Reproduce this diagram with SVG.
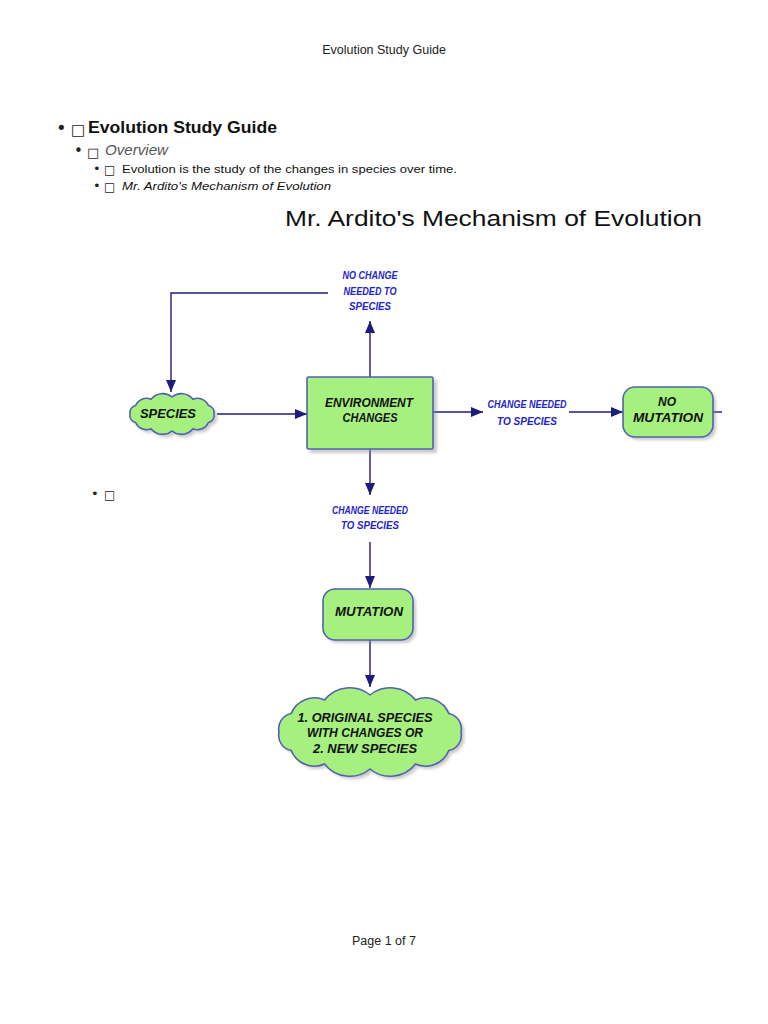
<svg xmlns="http://www.w3.org/2000/svg" width="768" height="1024" viewBox="0 0 768 1024">
<style>
.hdr{font-family:"Liberation Sans",Arial,sans-serif;font-size:12.5px;fill:#222;text-anchor:middle}
.sym{font-family:"DejaVu Sans",sans-serif;fill:#222}
.out{font-family:"Liberation Sans",Arial,sans-serif;fill:#111}
.node{fill:#a6f07f;stroke:#5262b0;stroke-width:1.6}
.shadow{fill:#888;opacity:0.45}
.nt{font-family:"Liberation Sans",Arial,sans-serif;font-weight:bold;font-style:italic;font-size:12px;fill:#111;text-anchor:middle}
.lt{font-family:"Liberation Sans",Arial,sans-serif;font-weight:bold;font-style:italic;font-size:11px;fill:#2424c8;text-anchor:middle}
.conn{fill:none;stroke:#1c1c7a;stroke-width:1.4}
</style>
<defs>
<marker id="ah" viewBox="0 0 12 10" refX="12" refY="5" markerWidth="12" markerHeight="10" markerUnits="userSpaceOnUse" orient="auto">
<path d="M0,0 L12,5 L0,10 Z" fill="#1c1c7a"/>
</marker>
<filter id="blur" x="-20%" y="-20%" width="140%" height="140%"><feGaussianBlur stdDeviation="1.5"/></filter>
<path id="cloudS" d="M214,414 A7.1,7.1 0 0 1 208.4,422.5 A11.6,11.6 0 0 1 193,428.7 A14.8,14.8 0 0 1 172,431 A14.8,14.8 0 0 1 151,428.7 A11.6,11.6 0 0 1 135.6,422.5 A7.1,7.1 0 0 1 130,414 A7.1,7.1 0 0 1 135.6,405.5 A11.6,11.6 0 0 1 151,399.3 A14.8,14.8 0 0 1 172,397 A14.8,14.8 0 0 1 193,399.3 A11.6,11.6 0 0 1 208.4,405.5 A7.1,7.1 0 0 1 214,414 Z"/>
<path id="cloudB" d="M461,732 A15.5,15.5 0 0 1 448.8,750.5 A25.1,25.1 0 0 1 415.5,764 A32,32 0 0 1 370,769 A32,32 0 0 1 324.5,764 A25.1,25.1 0 0 1 291.2,750.5 A15.5,15.5 0 0 1 279,732 A15.5,15.5 0 0 1 291.2,713.5 A25.1,25.1 0 0 1 324.5,700 A32,32 0 0 1 370,695 A32,32 0 0 1 415.5,700 A25.1,25.1 0 0 1 448.8,713.5 A15.5,15.5 0 0 1 461,732 Z"/>
</defs>
<rect width="768" height="1024" fill="#ffffff"/>

<text class="hdr" x="384" y="54">Evolution Study Guide</text>
<text class="hdr" x="384" y="945">Page 1 of 7</text>

<g id="outline">
<text class="sym" x="56" y="134" font-size="18">•</text>
<text class="sym" x="71" y="135" font-size="15">□</text>
<text class="out" x="88" y="133" font-size="17" font-weight="bold" textLength="189" lengthAdjust="spacingAndGlyphs">Evolution Study Guide</text>
<text class="sym" x="74" y="156" font-size="15">•</text>
<text class="sym" x="87" y="157" font-size="13">□</text>
<text class="out" x="105" y="155" font-size="14" font-style="italic" style="fill:#555" textLength="63" lengthAdjust="spacingAndGlyphs">Overview</text>
<text class="sym" x="93" y="173" font-size="13">•</text>
<text class="sym" x="104" y="174" font-size="12">□</text>
<text class="out" x="122" y="173" font-size="11" textLength="335" lengthAdjust="spacingAndGlyphs">Evolution is the study of the changes in species over time.</text>
<text class="sym" x="93" y="190" font-size="13">•</text>
<text class="sym" x="104" y="191" font-size="12">□</text>
<text class="out" x="122" y="190" font-size="11" font-style="italic" textLength="209" lengthAdjust="spacingAndGlyphs">Mr. Ardito's Mechanism of Evolution</text>
<text class="sym" x="91" y="498" font-size="13">•</text>
<text class="sym" x="104" y="499" font-size="12">□</text>
</g>

<text id="title" class="out" x="285" y="226" font-size="22" textLength="417" lengthAdjust="spacingAndGlyphs">Mr. Ardito's Mechanism of Evolution</text>

<g id="connectors">
<path class="conn" d="M370,377 L370,321" marker-end="url(#ah)"/>
<path class="conn" d="M328,293 L171,293 L171,392" marker-end="url(#ah)"/>
<path class="conn" d="M217,414 L307,414" marker-end="url(#ah)"/>
<path class="conn" d="M433,412 L483,412" marker-end="url(#ah)"/>
<path class="conn" d="M569,412 L623,412" marker-end="url(#ah)"/>
<path class="conn" d="M713,412 L722,412"/>
<path class="conn" d="M370,449 L370,495" marker-end="url(#ah)"/>
<path class="conn" d="M370,542 L370,588" marker-end="url(#ah)"/>
<path class="conn" d="M370,640 L370,687" marker-end="url(#ah)"/>
</g>

<g id="lbl-nochange">
<text class="lt" x="370" y="279" textLength="55" lengthAdjust="spacingAndGlyphs">NO CHANGE</text>
<text class="lt" x="370" y="295" textLength="53" lengthAdjust="spacingAndGlyphs">NEEDED TO</text>
<text class="lt" x="370" y="310" textLength="42" lengthAdjust="spacingAndGlyphs">SPECIES</text>
</g>
<g id="lbl-change-right">
<text class="lt" x="527" y="408" textLength="79" lengthAdjust="spacingAndGlyphs">CHANGE NEEDED</text>
<text class="lt" x="527" y="425" textLength="60" lengthAdjust="spacingAndGlyphs">TO SPECIES</text>
</g>
<g id="lbl-change-down">
<text class="lt" x="370" y="514" textLength="76" lengthAdjust="spacingAndGlyphs">CHANGE NEEDED</text>
<text class="lt" x="370" y="529" textLength="58" lengthAdjust="spacingAndGlyphs">TO SPECIES</text>
</g>

<g id="species">
<use href="#cloudS" class="shadow" transform="translate(3,3)" filter="url(#blur)"/>
<use href="#cloudS" class="node"/>
<text class="nt" x="168" y="418" textLength="56" lengthAdjust="spacingAndGlyphs">SPECIES</text>
</g>

<g id="environment">
<rect class="shadow" x="310" y="380" width="127" height="73" filter="url(#blur)"/>
<rect class="node" x="307" y="377" width="126" height="72" rx="1.5"/>
<text class="nt" x="369" y="407" textLength="88" lengthAdjust="spacingAndGlyphs">ENVIRONMENT</text>
<text class="nt" x="370" y="422" textLength="55" lengthAdjust="spacingAndGlyphs">CHANGES</text>
</g>

<g id="nomutation">
<rect class="shadow" x="626" y="390" width="90" height="50" rx="12" filter="url(#blur)"/>
<rect class="node" x="623" y="387" width="90" height="50" rx="12"/>
<text class="nt" x="667" y="406">NO</text>
<text class="nt" x="668" y="422" textLength="70" lengthAdjust="spacingAndGlyphs">MUTATION</text>
</g>

<g id="mutation">
<rect class="shadow" x="326" y="592" width="90" height="51" rx="12" filter="url(#blur)"/>
<rect class="node" x="323" y="589" width="90" height="51" rx="12"/>
<text class="nt" x="369" y="616" textLength="68" lengthAdjust="spacingAndGlyphs">MUTATION</text>
</g>

<g id="result">
<use href="#cloudB" class="shadow" transform="translate(3,3)" filter="url(#blur)"/>
<use href="#cloudB" class="node"/>
<text class="nt" x="365" y="722" textLength="135" lengthAdjust="spacingAndGlyphs">1. ORIGINAL SPECIES</text>
<text class="nt" x="365" y="737" textLength="116" lengthAdjust="spacingAndGlyphs">WITH CHANGES OR</text>
<text class="nt" x="365" y="753" textLength="104" lengthAdjust="spacingAndGlyphs">2. NEW SPECIES</text>
</g>
</svg>
